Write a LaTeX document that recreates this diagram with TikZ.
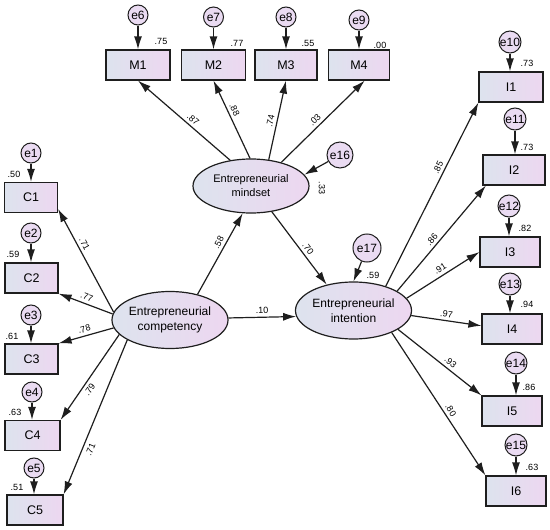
\documentclass[tikz,border=0pt]{standalone}
\usepackage{fontspec}
\setmainfont{Liberation Sans}
\usetikzlibrary{arrows.meta,shapes.geometric,positioning}
\definecolor{vleft}{RGB}{221,227,238}
\definecolor{vright}{RGB}{237,215,240}
\definecolor{efill}{RGB}{234,219,242}
\definecolor{trait}{RGB}{30,30,30}

\begin{document}
\begin{tikzpicture}[x=1pt,y=-1pt,
  obs/.style={draw=trait,line width=1.2pt,left color=vleft,right color=vright,minimum height=30pt,inner sep=0pt,font=\fontsize{12.5}{14}\selectfont},
  lat/.style={ellipse,draw=trait,line width=1.2pt,left color=vleft,right color=vright,inner sep=0pt,align=center,font=\fontsize{12}{15}\selectfont},
  err/.style={circle,draw=trait,line width=1pt,fill=efill,inner sep=0pt,minimum size=20pt,font=\fontsize{12}{14}\selectfont},
  fl/.style={-{Latex[length=13pt,width=8pt]},line width=1.2pt,draw=trait},
  coef/.style={font=\fontsize{9}{10}\selectfont,inner sep=1pt,sloped},
  r2/.style={font=\fontsize{9}{10}\selectfont,inner sep=0pt}]
\useasboundingbox (0,0) rectangle (550,530);

% latent variables
\node[lat,minimum width=106pt,minimum height=57pt] (comp) at (170,320) {Entrepreneurial\\competency};
\node[lat,minimum width=116pt,minimum height=54pt,font=\fontsize{11}{14}\selectfont] (mind) at (251,186) {Entrepreneurial\\mindset};
\node[lat,minimum width=105pt,minimum height=57pt] (intent) at (353.5,310.5) {Entrepreneurial\\intention};

% mindset items
\node[obs,minimum width=64pt] (M1) at (138,65) {M1};
\node[obs,minimum width=64pt] (M2) at (213.5,65) {M2};
\node[obs,minimum width=62pt] (M3) at (286,65) {M3};
\node[obs,minimum width=61pt] (M4) at (359,65) {M4};
\node[err] (e6) at (138,15) {e6};
\node[err] (e7) at (213.5,17) {e7};
\node[err] (e8) at (286,17) {e8};
\node[err] (e9) at (359,20) {e9};
\node[r2] (r6) at (161,41) {.75};
\node[r2] (r7) at (237,43) {.77};
\node[r2] (r8) at (308,43) {.55};
\node[r2] (r9) at (380,45) {.00};
\draw[fl] (e6) -- (e6 |- M1.north);
\draw[fl] (e7) -- (e7 |- M2.north);
\draw[fl] (e8) -- (e8 |- M3.north);
\draw[fl] (e9) -- (e9 |- M4.north);

% competency items
\node[obs,minimum width=53pt] (C1) at (31,197.5) {C1};
\node[obs,minimum width=53pt] (C2) at (31.5,278) {C2};
\node[obs,minimum width=53pt] (C3) at (31.5,359) {C3};
\node[obs,minimum width=55pt] (C4) at (32.5,435.5) {C4};
\node[obs,minimum width=56pt] (C5) at (35,510) {C5};
\node[err] (e1) at (31,153) {e1};
\node[err] (e2) at (31,233) {e2};
\node[err] (e3) at (31,315) {e3};
\node[err] (e4) at (32,392) {e4};
\node[err] (e5) at (34,468) {e5};
\node[r2] (r1) at (14,174) {.50};
\node[r2] (r2) at (13,254) {.59};
\node[r2] (r3) at (12,336) {.61};
\node[r2] (r4) at (15,412) {.63};
\node[r2] (r5) at (17,487) {.51};
\draw[fl] (e1) -- (e1 |- C1.north);
\draw[fl] (e2) -- (e2 |- C2.north);
\draw[fl] (e3) -- (e3 |- C3.north);
\draw[fl] (e4) -- (e4 |- C4.north);
\draw[fl] (e5) -- (e5 |- C5.north);

% intention items
\node[obs,minimum width=64pt] (I1) at (511,87) {I1};
\node[obs,minimum width=62pt] (I2) at (514,170) {I2};
\node[obs,minimum width=60pt] (I3) at (510,252) {I3};
\node[obs,minimum width=60pt] (I4) at (512,329) {I4};
\node[obs,minimum width=60pt] (I5) at (512,411) {I5};
\node[obs,minimum width=60pt] (I6) at (516,491) {I6};
\node[err,minimum size=22pt] (e10) at (510,42) {e10};
\node[err,minimum size=22pt] (e11) at (515,119) {e11};
\node[err,minimum size=22pt] (e12) at (509,206) {e12};
\node[err,minimum size=22pt] (e13) at (510,284) {e13};
\node[err,minimum size=22pt] (e14) at (516,363) {e14};
\node[err,minimum size=22pt] (e15) at (516,445) {e15};
\node[r2] (r10) at (527,63) {.73};
\node[r2] (r11) at (527,147) {.73};
\node[r2] (r12) at (525,228) {.82};
\node[r2] (r13) at (527,304) {.94};
\node[r2] (r14) at (529,387) {.86};
\node[r2] (r15) at (532,467) {.63};
\draw[fl] (e10) -- (e10 |- I1.north);
\draw[fl] (e11) -- (e11 |- I2.north);
\draw[fl] (e12) -- (e12 |- I3.north);
\draw[fl] (e13) -- (e13 |- I4.north);
\draw[fl] (e14) -- (e14 |- I5.north);
\draw[fl] (e15) -- (e15 |- I6.north);

% disturbances
\node[err,minimum size=26pt] (e16) at (340,155) {e16};
\node[err,minimum size=28pt] (e17) at (367,248) {e17};
\node[r2,rotate=-90] (r16) at (322,188) {.33};
\node[r2] (r17) at (373,275) {.59};
\draw[fl] (e16) -- (mind.12);
\draw[fl] (e17) -- (intent.north);

% loadings
\draw[fl] (mind.129) -- (M1.south) node[coef,pos=.45,above=2pt] {.87};
\draw[fl] (mind.92) -- (M2.south) node[coef,pos=.59,above=2pt] {.88};
\draw[fl] (mind.56) -- (M3.south) node[coef,pos=.47,above=2pt] {.74};
\draw[fl] (mind.38) -- (M4.-70) node[coef,pos=.46,above=2pt] {.03};
\draw[fl] (comp.172) -- (C1.-23) node[coef,pos=.63,above=2pt] {.71};
\draw[fl] (comp.174) -- (C2.south east) node[coef,pos=.52,above=2pt] {.77};
\draw[fl] (comp.188) -- (C3.north east) node[coef,pos=.5,above=2pt] {.78};
\draw[fl] (comp.196) -- (C4.north east) node[coef,pos=.6,below=2pt] {.79};
\draw[fl] (comp.205) -- (C5.north east) node[coef,pos=.69,below=3pt] {.71};
\draw[fl] (intent.37) -- (I1.south west) node[coef,pos=.63,above=2pt] {.85};
\draw[fl] (intent.24) -- (I2.209) node[coef,pos=.45,above=2pt] {.86};
\draw[fl] (intent.13) -- (I3.west) node[coef,pos=.51,above=2pt] {.91};
\draw[fl] (intent.-5) -- (I4.174) node[coef,pos=.49,above=2pt] {.97};
\draw[fl] (intent.-23) -- (I5.north west) node[coef,pos=.58,above=2pt] {.93};
\draw[fl] (intent.-30.5) -- (I6.north west) node[coef,pos=.57,above=2pt] {.80};

% structural paths
\draw[fl] (comp.43) -- (mind.253) node[coef,pos=.6,above=2pt] {.58};
\draw[fl] (comp.2) -- (intent.186) node[coef,pos=.5,above=2pt] {.10};
\draw[fl] (mind.-51) -- (intent.136) node[coef,pos=.56,above=2pt] {.70};

\end{tikzpicture}
\end{document}
